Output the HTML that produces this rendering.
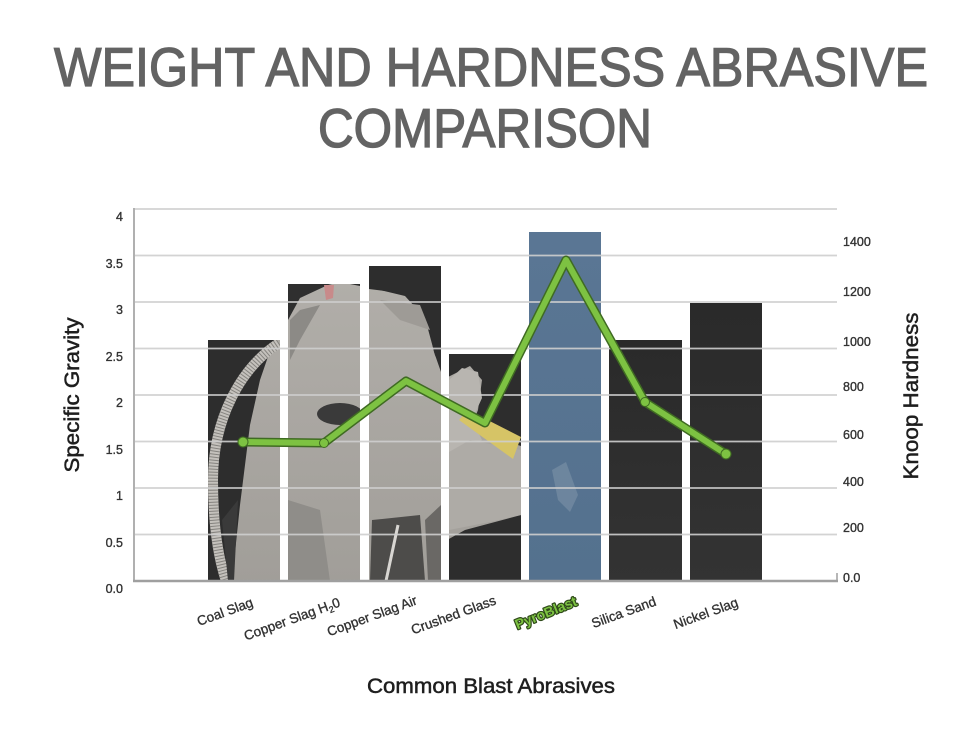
<!DOCTYPE html>
<html>
<head>
<meta charset="utf-8">
<style>
  html,body{margin:0;padding:0;background:#fff;}
  svg{display:block;}
  text{font-family:"Liberation Sans", Arial, sans-serif;}
</style>
</head>
<body>
<svg width="980" height="735" viewBox="0 0 980 735" xmlns="http://www.w3.org/2000/svg">
  <defs>
    <clipPath id="photoClip">
      <rect x="208" y="340" width="72" height="241"/>
      <rect x="288" y="284" width="72" height="297"/>
      <rect x="369" y="266" width="72" height="315"/>
      <rect x="449" y="354" width="72" height="227"/>
    </clipPath>
    <linearGradient id="darkBar" x1="0" y1="0" x2="0" y2="1">
      <stop offset="0" stop-color="#2a2a2a"/>
      <stop offset="1" stop-color="#333333"/>
    </linearGradient>
    <linearGradient id="blueBar" x1="0" y1="0" x2="0" y2="1">
      <stop offset="0" stop-color="#5a7694"/>
      <stop offset="1" stop-color="#54718e"/>
    </linearGradient>
    <linearGradient id="suit" x1="0" y1="0" x2="0" y2="1">
      <stop offset="0" stop-color="#b1aea9"/>
      <stop offset="1" stop-color="#a19e99"/>
    </linearGradient>
  </defs>

  <!-- Title -->
  <text x="54" y="86" font-size="55" fill="#636363" stroke="#636363" stroke-width="1.3" textLength="874" lengthAdjust="spacingAndGlyphs">WEIGHT AND HARDNESS ABRASIVE</text>
  <text x="318" y="147" font-size="55" fill="#636363" stroke="#636363" stroke-width="1.3" textLength="334" lengthAdjust="spacingAndGlyphs">COMPARISON</text>

  <!-- Photo bars (1-4) -->
  <g clip-path="url(#photoClip)">
    <rect x="200" y="260" width="330" height="330" fill="#2d2d2d"/>
    <path d="M272,345 L300,292 L340,282 L380,290 L405,296 L425,318 L435,355 L446,378 L470,366 L482,380 L478,410 L472,425 L495,438 L521,446 L521,515 L495,522 L465,530 L447,540 L441,581 L232,581 L240,505 L250,425 L260,380 Z" fill="url(#suit)"/>
    <path d="M369,266 L441,266 L441,372 L434,352 L426,314 L402,293 L369,289 Z" fill="#2d2d2d"/>
    <path d="M288,284 L330,284 L300,298 L288,320 Z" fill="#2f2f2f"/>
    <path d="M324,285 L334,285 L333,298 L326,300 Z" fill="#c88a8a"/>
    <path d="M290,320 L300,310 L320,305 L300,340 L290,360 Z" fill="#8c8a86"/>
    <path d="M380,300 L420,305 L430,330 L400,320 Z" fill="#9e9b96"/>
    <ellipse cx="340" cy="414" rx="23" ry="11" fill="#3a3a3a"/>
    <path d="M288,500 L320,510 L330,581 L288,581 Z" fill="#8f8d89"/>
    <path d="M372,520 L420,515 L425,581 L370,581 Z" fill="#4d4c4a"/>
    <line x1="386" y1="581" x2="398" y2="525" stroke="#d8d6d2" stroke-width="3"/>
    <path d="M425,520 L441,505 L441,581 L428,581 Z" fill="#6a6865"/>
    <path d="M449,380 L462,368 L478,372 L482,398 L472,420 L482,440 L460,455 L449,452 Z" fill="#b8b5b0"/>
    <path d="M449,452 L470,440 L500,446 L521,450 L521,515 L490,522 L449,530 Z" fill="#aeaba6"/>
    <path d="M459,420 L468,410 L521,437 L513,459 Z" fill="#d6c466"/>
    <path d="M279,343 C240,368 213,420 213,480 C213,530 219,560 226,581" fill="none" stroke="#c4c1bc" stroke-width="10"/>
    <path d="M279,343 C240,368 213,420 213,480 C213,530 219,560 226,581" fill="none" stroke="#85837f" stroke-width="10" stroke-dasharray="1 2"/>
    <path d="M222,520 L238,500 L234,581 L228,581 Z" fill="#3a3a3a"/>
  </g>

  <!-- Other bars -->
  <rect x="529" y="232" width="72" height="349" fill="url(#blueBar)"/>
  <path d="M552,470 L566,462 L578,495 L570,512 L558,500 Z" fill="#7d93a8" opacity="0.6"/>
  <rect x="609" y="340" width="73" height="241" fill="url(#darkBar)"/>
  <rect x="690" y="303" width="72" height="278" fill="url(#darkBar)"/>

  <!-- Gridlines -->
  <g stroke="#cfcfcf" stroke-width="1.8" opacity="0.9">
    <line x1="134" y1="209" x2="837" y2="209"/>
    <line x1="134" y1="255.5" x2="837" y2="255.5"/>
    <line x1="134" y1="302" x2="837" y2="302"/>
    <line x1="134" y1="348.5" x2="837" y2="348.5"/>
    <line x1="134" y1="395" x2="837" y2="395"/>
    <line x1="134" y1="441.5" x2="837" y2="441.5"/>
    <line x1="134" y1="488" x2="837" y2="488"/>
    <line x1="134" y1="534.5" x2="837" y2="534.5"/>
  </g>
  <!-- Axes -->
  <line x1="134" y1="208" x2="134" y2="582" stroke="#b0b0b0" stroke-width="2"/>
  <line x1="133" y1="581" x2="838" y2="581" stroke="#9f9f9f" stroke-width="2.5"/>
  <line x1="837" y1="573" x2="837" y2="581" stroke="#9f9f9f" stroke-width="1.5"/>

  <!-- Hardness line -->
  <polyline points="243,442 324,443 406,381 485,423 566,260 645,402 726,454" fill="none" stroke="#3f6b22" stroke-width="9" stroke-linejoin="round" stroke-linecap="round"/>
  <polyline points="243,442 324,443 406,381 485,423 566,260 645,402 726,454" fill="none" stroke="#7dc242" stroke-width="6" stroke-linejoin="round" stroke-linecap="round"/>
  <g fill="#7dc242" stroke="#3f6b22" stroke-width="1">
    <circle cx="243" cy="442" r="5"/>
    <circle cx="324" cy="443" r="4.5"/>
    <circle cx="645" cy="402" r="4.5"/>
    <circle cx="726" cy="454" r="5"/>
  </g>

  <!-- Left tick labels -->
  <g font-size="12.5" fill="#333" text-anchor="end" stroke="#333" stroke-width="0.35">
    <text x="123" y="221">4</text>
    <text x="123" y="268">3.5</text>
    <text x="123" y="314">3</text>
    <text x="123" y="361">2.5</text>
    <text x="123" y="407">2</text>
    <text x="123" y="454">1.5</text>
    <text x="123" y="500">1</text>
    <text x="123" y="547">0.5</text>
    <text x="123" y="593">0.0</text>
  </g>
  <!-- Right tick labels -->
  <g font-size="12.5" fill="#333" stroke="#333" stroke-width="0.35">
    <text x="843" y="246">1400</text>
    <text x="843" y="296">1200</text>
    <text x="843" y="346">1000</text>
    <text x="843" y="391">800</text>
    <text x="843" y="439">600</text>
    <text x="843" y="486">400</text>
    <text x="843" y="532">200</text>
    <text x="843" y="582">0.0</text>
  </g>

  <!-- X category labels -->
  <g font-size="13.5" fill="#333" text-anchor="end" stroke="#333" stroke-width="0.35">
    <text transform="translate(254,606) rotate(-20)">Coal Slag</text>
    <text transform="translate(341,606) rotate(-20)">Copper Slag H<tspan font-size="9" dy="3">2</tspan><tspan dy="-3">0</tspan></text>
    <text transform="translate(418,604) rotate(-20)">Copper Slag Air</text>
    <text transform="translate(497,604) rotate(-20)">Crushed Glass</text>
    <text transform="translate(657,605) rotate(-20)">Silica Sand</text>
    <text transform="translate(739,606) rotate(-20)">Nickel Slag</text>
  </g>
  <text transform="translate(578,605) rotate(-22)" text-anchor="end" font-size="14" font-weight="bold" fill="#7dc242" stroke="#2f4a1a" stroke-width="2.4" paint-order="stroke" stroke-linejoin="round">PyroBlast</text>

  <!-- Axis titles -->
  <text transform="translate(79,395) rotate(-90)" text-anchor="middle" font-size="21" fill="#1e1e1e" stroke="#1e1e1e" stroke-width="0.5" textLength="155" lengthAdjust="spacingAndGlyphs">Specific Gravity</text>
  <text transform="translate(918,396) rotate(-90)" text-anchor="middle" font-size="21" fill="#1e1e1e" stroke="#1e1e1e" stroke-width="0.5" textLength="167" lengthAdjust="spacingAndGlyphs">Knoop Hardness</text>
  <text x="367" y="693" font-size="21" fill="#1e1e1e" stroke="#1e1e1e" stroke-width="0.5" textLength="248" lengthAdjust="spacingAndGlyphs">Common Blast Abrasives</text>
</svg>
</body>
</html>
